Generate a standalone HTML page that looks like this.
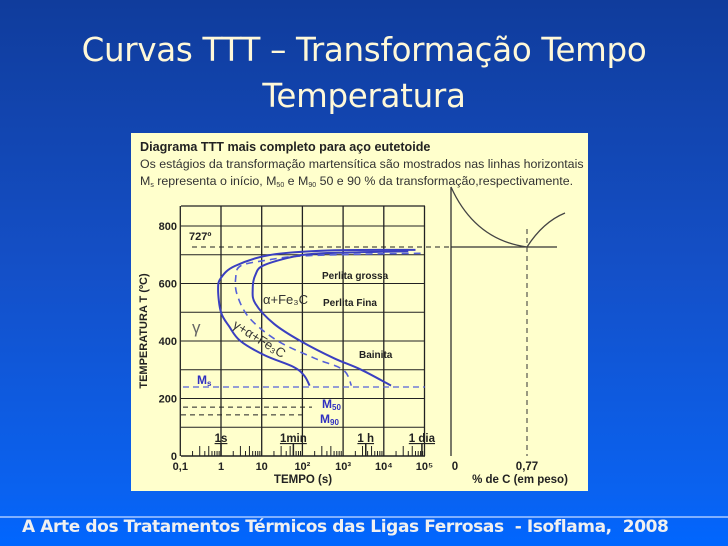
<!DOCTYPE html>
<html><head><meta charset="utf-8"><style>
html,body{margin:0;padding:0}
body{width:728px;height:546px;overflow:hidden;position:relative;font-family:"Liberation Sans",sans-serif;background:linear-gradient(180deg,#103c9c 0%,#1450c8 50%,#0a62f0 90%,#0066ff 100%)}
#title{position:absolute;left:0;width:728px;top:27px;text-align:center;color:#fff8d8;font-family:"DejaVu Sans",sans-serif;font-size:32.5px;line-height:46px;letter-spacing:-0.3px}
#panel{position:absolute;left:131px;top:133px;width:457px;height:358px;background:#ffffcc}
#footline{position:absolute;left:0;top:516px;width:728px;height:2px;background:#7fb0ff}
#footer{position:absolute;left:22px;top:517px;color:#f0f0f0;font-family:"DejaVu Sans",sans-serif;font-weight:bold;font-size:17px;letter-spacing:-0.4px;white-space:nowrap}
svg{position:absolute;left:0;top:0}
</style></head><body>
<div id="title">Curvas TTT – Transformação Tempo<br>Temperatura</div>
<div id="panel"></div>
<svg id="chart" width="728" height="546" font-family="Liberation Sans, sans-serif">
<text x="140" y="151" font-size="12.6" font-weight="bold" fill="#222">Diagrama TTT mais completo  para aço eutetoide</text>
<text x="140" y="168" font-size="12.4" fill="#333">Os estágios da transformação martensítica são mostrados nas linhas horizontais</text>
<text x="140" y="185" font-size="12.4" fill="#333">M<tspan font-size="7" dy="2">s</tspan><tspan dy="-2"> representa o início, M</tspan><tspan font-size="7" dy="2">50</tspan><tspan dy="-2">  e M</tspan><tspan font-size="7" dy="2">90</tspan><tspan dy="-2"> 50 e 90 % da transformação,respectivamente.</tspan></text>
<g id="grid"></g><g id="curves"></g><g id="labels"></g>
</svg>
<div id="footline"></div>
<div id="footer">A Arte dos Tratamentos Térmicos das Ligas Ferrosas&nbsp; - Isoflama,&nbsp; 2008</div>
<script>
const timeDecades=[-1,0,1,2,3,4,5];
const timeTickLabels=["0,1","1","10","10²","10³","10⁴","10⁵"];
const tempTicks=[0,200,400,600,800];
const tempGrid=[100,200,300,400,500,600,700,800];
const startCurve=[[60000,717],[500,715],[17,700],[2.2,661],[1,620],[0.85,580],[1,500],[1.6,450],[3,400],[12,350],[60,310],[110,280],[150,245]];
const midCurve=[[80000,705],[3000,702],[80,695],[12,680],[3,661],[2.3,620],[2.5,560],[5,480],[25,400],[200,340],[1000,300],[1600,245]];
const endCurve=[[40000,712],[1500,708],[110,700],[12,665],[7,630],[6,580],[7,530],[20,460],[90,400],[600,340],[2800,300],[15000,245]];
const eutectoidTemp=727, msTemp=240, m50Temp=170, m90Temp=143;
const timeMarks=[["1s",1],["1min",60],["1 h",3600],["1 dia",86400]];
const NS="http://www.w3.org/2000/svg";
const X=t=>221+40.7*Math.log10(t);
const Y=T=>456-0.2875*T;
function mk(tag,attrs,parent,text){const e=document.createElementNS(NS,tag);for(const k in attrs)e.setAttribute(k,attrs[k]);if(text!==undefined)e.textContent=text;document.getElementById(parent).appendChild(e);return e;}
timeDecades.forEach((d,i)=>{const x=X(Math.pow(10,d));
 const l=mk('line',{x1:x,x2:x,y1:206,y2:456,stroke:'#222','stroke-width':1.3},'grid');
 
 const t=mk('text',{x:x,y:470,'font-size':11,'font-weight':'bold','text-anchor':'middle',fill:'#222'},'labels',timeTickLabels[i]);
 
 if(i<6){for(let m=2;m<10;m++){const xm=X(m*Math.pow(10,d));const h=(m==5||m==3)?10:5;
  const tk=mk('line',{x1:xm,x2:xm,y1:456-h,y2:456,stroke:'#222','stroke-width':1},'grid');
  }}
});
const topl=mk('line',{x1:181,x2:425,y1:206,y2:206,stroke:'#222','stroke-width':1.3},'grid');

const base=mk('line',{x1:181,x2:425,y1:456,y2:456,stroke:'#222','stroke-width':1.5},'grid');

tempGrid.forEach(T=>{const l=mk('line',{x1:181,x2:425,y1:Y(T),y2:Y(T),stroke:'#222','stroke-width':1.1},'grid');
 });
tempTicks.forEach(T=>{const t=mk('text',{x:177,y:Y(T)+4,'font-size':11,'font-weight':'bold','text-anchor':'end',fill:'#222'},'labels',String(T));
 });
const eut=mk('line',{x1:192,x2:451,y1:Y(eutectoidTemp),y2:Y(eutectoidTemp),stroke:'#222','stroke-dasharray':'5,4'},'grid');

const ms=mk('line',{x1:183,x2:425,y1:Y(msTemp),y2:Y(msTemp),stroke:'#5560d8','stroke-width':1.3,'stroke-dasharray':'6,4'},'grid');

const m50=mk('line',{x1:183,x2:312,y1:Y(m50Temp),y2:Y(m50Temp),stroke:'#222','stroke-dasharray':'5,4'},'grid');

const m90=mk('line',{x1:181,x2:306,y1:Y(m90Temp),y2:Y(m90Temp),stroke:'#222','stroke-dasharray':'5,4'},'grid');

function path(pts){const p=pts.map(q=>[X(q[0]),Y(q[1])]);let d='M'+p[0][0].toFixed(1)+','+p[0][1].toFixed(1);
 for(let i=0;i<p.length-1;i++){const p0=p[Math.max(0,i-1)],p1=p[i],p2=p[i+1],p3=p[Math.min(p.length-1,i+2)];
  const c1=[p1[0]+(p2[0]-p0[0])/6,p1[1]+(p2[1]-p0[1])/6],c2=[p2[0]-(p3[0]-p1[0])/6,p2[1]-(p3[1]-p1[1])/6];
  d+=' C'+c1.map(v=>v.toFixed(1)).join(',')+' '+c2.map(v=>v.toFixed(1)).join(',')+' '+p2[0].toFixed(1)+','+p2[1].toFixed(1);}
 return d;}
const c1=mk('path',{d:path(startCurve),fill:'none',stroke:'#3a3fc0','stroke-width':2},'curves');

const c2=mk('path',{d:path(midCurve),fill:'none',stroke:'#5560d8','stroke-width':1.6,'stroke-dasharray':'7,5'},'curves');

const c3=mk('path',{d:path(endCurve),fill:'none',stroke:'#3a3fc0','stroke-width':2},'curves');

timeMarks.forEach(m=>{const x=X(m[1]);
 const t=mk('text',{x:x,y:442,'font-size':11.5,'font-weight':'bold','text-anchor':'middle',fill:'#222','text-decoration':'underline'},'labels',m[0]);
 
 const l=mk('line',{x1:x,x2:x,y1:444,y2:456,stroke:'#222','stroke-width':1.5},'grid');
 });
function lab(x,y,s,name,extra){const a=Object.assign({x:x,y:y,'font-size':10,'font-weight':'bold',fill:'#222'},extra||{});const t=mk('text',a,'labels',s);return t;}
lab(189,240,'727º','eutectoid-label',{'font-size':11});
lab(322,279,'Perlita grossa','coarse-pearlite-label');
lab(323,306,'Perlita Fina','fine-pearlite-label');
lab(359,358,'Bainita','bainite-label');
lab(263,304,'α+Fe₃C','alpha-fe3c-label',{'font-size':13,'font-weight':'normal','fill':'#333'});
lab(192,333,'γ','gamma-label',{'font-size':17,'font-weight':'normal','fill':'#666'});
lab(232,327,'γ+α+Fe₃C','mixed-phase-label',{'font-size':13,'font-weight':'normal','fill':'#333',transform:'rotate(32 232 327)'});
lab(197,384,'M','ms-label',{'font-size':12,fill:'#3030c0'}).innerHTML='M<tspan font-size="8" dy="2">s</tspan>';
lab(322,408,'M','m50-label',{'font-size':12,fill:'#3030c0'}).innerHTML='M<tspan font-size="8" dy="2">50</tspan>';
lab(320,423,'M','m90-label',{'font-size':12,fill:'#3030c0'}).innerHTML='M<tspan font-size="8" dy="2">90</tspan>';
lab(303,483,'TEMPO (s)','x-axis-title',{'font-size':11.5,'text-anchor':'middle'});
lab(147,331,'TEMPERATURA T (ºC)','y-axis-title',{'font-size':11,'text-anchor':'middle',transform:'rotate(-90 147 331)'});
const ry=Y(eutectoidTemp);
const rl=[['line',{x1:451,x2:451,y1:187,y2:456,stroke:'#333','stroke-width':1.3},'phase-y-axis'],
 ['line',{x1:451,x2:557,y1:ry,y2:ry,stroke:'#333','stroke-width':1.2},'phase-eutectoid-line'],
 ['line',{x1:527,x2:527,y1:229,y2:456,stroke:'#333','stroke-dasharray':'5,4'},'phase-077-line'],
 ['path',{d:'M451,187 Q475,240 527,'+ry,fill:'none',stroke:'#444','stroke-width':1.3},'a3-curve'],
 ['path',{d:'M527,'+ry+' Q543,222 565,213',fill:'none',stroke:'#444','stroke-width':1.3},'acm-curve']];
rl.forEach(r=>{const e=mk(r[0],r[1],'grid');});
lab(455,470,'0','phase-x-zero',{'font-size':11.5,'text-anchor':'middle'});
lab(527,470,'0,77','phase-x-077',{'font-size':11.5,'text-anchor':'middle'});
lab(520,483,'% de C (em  peso)','phase-x-title',{'font-size':11.5,'text-anchor':'middle'});
</script>
</body></html>
